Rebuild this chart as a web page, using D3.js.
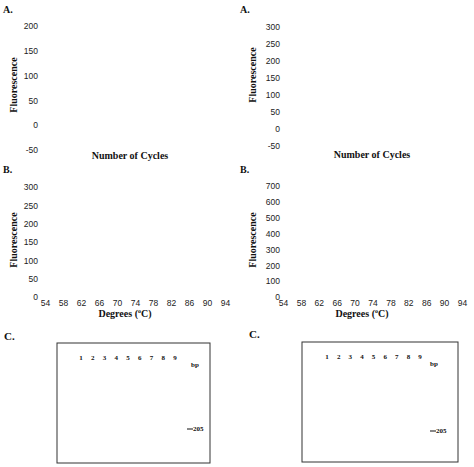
<!DOCTYPE html><html><head><script src="https://cdn.jsdelivr.net/npm/d3@7"></script>
<style>body{margin:0;background:#fff}</style></head><body><svg id="c" width="474" height="467"></svg>
<script>
const yTicksA1=[-50,0,50,100,150,200];
const yTicksA2=[-50,0,50,100,150,200,250,300];
const yTicksB1=[0,50,100,150,200,250,300];
const yTicksB2=[0,100,200,300,400,500,600,700];
const xTicksB=[54,58,62,66,70,74,78,82,86,90,94];
const lanes=[1,2,3,4,5,6,7,8,9];
const svg=d3.select("#c");
const serif="Times New Roman, Liberation Serif, serif", sans="Arial, Liberation Sans, sans-serif";
const fmt=d=>String(d);
function txt(x,y,t,o={}){return svg.append("text").attr("x",x).attr("y",y).text(t)
 .attr("font-family",o.f||serif).attr("font-weight",o.w||"bold").attr("font-size",o.s||10)
 .attr("text-anchor",o.a||"start").attr("fill","#111");}
function yAxis(ticks,x,y0,y1){const s=d3.scaleLinear().domain(d3.extent(ticks)).range([y0,y1]);
 const g=svg.append("g").attr("transform",`translate(${x},0)`).call(d3.axisLeft(s).tickValues(ticks).tickFormat(fmt).tickSize(0).tickPadding(0));
 g.select(".domain").remove();g.selectAll("text").attr("font-family",sans).attr("font-size",8.5).attr("fill","#222");}
function xAxis(ticks,y,x0,x1){const s=d3.scaleLinear().domain(d3.extent(ticks)).range([x0,x1]);
 const g=svg.append("g").attr("transform",`translate(0,${y})`).call(d3.axisBottom(s).tickValues(ticks).tickFormat(fmt).tickSize(0).tickPadding(0));
 g.select(".domain").remove();g.selectAll("text").attr("font-family",sans).attr("font-size",8.5).attr("fill","#222");}
function ylab(x,y,t){svg.append("text").attr("transform",`translate(${x},${y}) rotate(-90)`).attr("text-anchor","middle")
 .attr("font-family",serif).attr("font-weight","bold").attr("font-size",10).attr("fill","#111").text(t);}
txt(3,13,"A.");txt(240,13,"A.");
yAxis(yTicksA1,38,150,26);yAxis(yTicksA2,280,146,27);
ylab(17,85,"Fluorescence");ylab(256,75,"Fluorescence");
txt(130,159,"Number of Cycles",{a:"middle"});txt(372,158,"Number of Cycles",{a:"middle"});
txt(3,173,"B.");txt(240,173,"B.");
yAxis(yTicksB1,38,297,187);yAxis(yTicksB2,280,297,186);
ylab(17,240,"Fluorescence");ylab(256,240,"Fluorescence");
xAxis(xTicksB,300,45,225);xAxis(xTicksB,300,283,462);
const d1=txt(125,317,"Degrees (",{a:"middle"});d1.append("tspan").attr("dy",-4).attr("font-size",6).text("o");d1.append("tspan").attr("dy",4).text("C)");
const d2=txt(362,317,"Degrees (",{a:"middle"});d2.append("tspan").attr("dy",-4).attr("font-size",6).text("o");d2.append("tspan").attr("dy",4).text("C)");
function gel(x0,y0,x1,y1,lx0,lx1,bpx,mx,my){svg.append("rect").attr("x",x0).attr("y",y0).attr("width",x1-x0).attr("height",y1-y0)
 .attr("fill","none").attr("stroke","#333").attr("stroke-width",1);
 const s=d3.scalePoint().domain(lanes).range([lx0,lx1]);
 lanes.forEach(l=>txt(s(l),y0+17,l,{s:7,a:"middle"}));
 txt(bpx,y0+24,"bp",{s:7,a:"middle"});
 svg.append("line").attr("x1",mx).attr("x2",mx+6).attr("y1",my-2).attr("y2",my-2).attr("stroke","#111");
 txt(mx+6,my,"205",{s:7});}
txt(4,340,"C.",{s:11});txt(249,338,"C.",{s:11});
gel(57,343,210,463,81,175,195,187,431);
gel(302,342,458,462,327,420,434,430,433);
</script></body></html>
